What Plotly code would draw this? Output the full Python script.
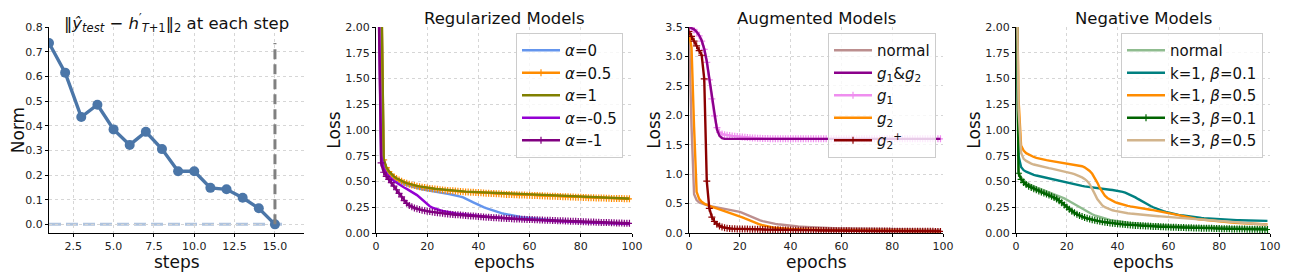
import plotly.graph_objects as go

# ---------------- data ----------------
steps = list(range(1, 16))
norms = [0.735, 0.615, 0.435, 0.485, 0.385, 0.322, 0.375, 0.305, 0.215, 0.215,
         0.148, 0.142, 0.108, 0.065, 0.0]

epochs = list(range(100))

reg_a0 = [3.4, 2.9, 2.4, 0.70, 0.62, 0.58, 0.55, 0.53, 0.512, 0.498,
          0.486, 0.475, 0.465, 0.457, 0.449, 0.442, 0.436, 0.430, 0.424, 0.419,
          0.414, 0.409, 0.404, 0.400, 0.396, 0.392, 0.388, 0.384, 0.380, 0.376,
          0.372, 0.367, 0.361, 0.354, 0.345, 0.335, 0.323, 0.310, 0.297, 0.284,
          0.272, 0.261, 0.251, 0.241, 0.232, 0.223, 0.215, 0.207, 0.200, 0.193,
          0.187, 0.181, 0.176, 0.171, 0.166, 0.162, 0.158, 0.154, 0.151, 0.148,
          0.145, 0.142, 0.140, 0.137, 0.135, 0.133, 0.131, 0.129, 0.127, 0.125,
          0.123, 0.121, 0.120, 0.118, 0.117, 0.115, 0.114, 0.112, 0.111, 0.110,
          0.108, 0.107, 0.106, 0.105, 0.104, 0.103, 0.102, 0.101, 0.100, 0.099,
          0.098, 0.097, 0.096, 0.095, 0.094, 0.093, 0.092, 0.092, 0.091, 0.090]
reg_a05 = [3.5, 3.0, 2.55, 0.71, 0.635, 0.595, 0.568, 0.546, 0.528, 0.514,
           0.502, 0.491, 0.482, 0.474, 0.467, 0.461, 0.455, 0.450, 0.445, 0.441,
           0.437, 0.433, 0.430, 0.427, 0.424, 0.421, 0.418, 0.416, 0.413, 0.411,
           0.409, 0.407, 0.405, 0.403, 0.401, 0.399, 0.398, 0.396, 0.395, 0.393,
           0.392, 0.390, 0.389, 0.387, 0.386, 0.384, 0.383, 0.382, 0.380, 0.379,
           0.376, 0.375, 0.374, 0.373, 0.372, 0.371, 0.370, 0.369, 0.368, 0.367,
           0.366, 0.365, 0.364, 0.363, 0.362, 0.361, 0.360, 0.359, 0.358, 0.357,
           0.356, 0.355, 0.354, 0.353, 0.352, 0.351, 0.350, 0.349, 0.348, 0.347,
           0.346, 0.345, 0.344, 0.343, 0.343, 0.342, 0.341, 0.340, 0.339, 0.339,
           0.338, 0.337, 0.336, 0.336, 0.335, 0.334, 0.334, 0.333, 0.332, 0.332]
reg_a1 = [3.5, 3.0, 2.6, 0.72, 0.64, 0.60, 0.572, 0.550, 0.532, 0.517,
          0.505, 0.494, 0.485, 0.477, 0.470, 0.464, 0.458, 0.453, 0.448, 0.444,
          0.440, 0.436, 0.433, 0.430, 0.427, 0.424, 0.421, 0.419, 0.416, 0.414,
          0.412, 0.410, 0.408, 0.406, 0.404, 0.402, 0.401, 0.399, 0.398, 0.396,
          0.395, 0.393, 0.392, 0.390, 0.389, 0.387, 0.386, 0.385, 0.383, 0.382,
          0.379, 0.378, 0.377, 0.376, 0.375, 0.374, 0.373, 0.372, 0.371, 0.370,
          0.369, 0.368, 0.367, 0.366, 0.365, 0.364, 0.363, 0.362, 0.361, 0.360,
          0.359, 0.358, 0.357, 0.356, 0.355, 0.354, 0.353, 0.352, 0.351, 0.350,
          0.349, 0.348, 0.347, 0.346, 0.346, 0.345, 0.344, 0.343, 0.342, 0.342,
          0.341, 0.340, 0.339, 0.339, 0.338, 0.337, 0.337, 0.336, 0.335, 0.335]
reg_am05 = [3.3, 2.4, 0.75, 0.63, 0.58, 0.55, 0.525, 0.505, 0.487, 0.470,
            0.455, 0.441, 0.428, 0.415, 0.401, 0.386, 0.368, 0.347, 0.323, 0.298,
            0.276, 0.260, 0.247, 0.237, 0.228, 0.221, 0.215, 0.209, 0.204, 0.199,
            0.195, 0.191, 0.187, 0.184, 0.181, 0.178, 0.175, 0.172, 0.169, 0.167,
            0.164, 0.162, 0.160, 0.158, 0.156, 0.154, 0.152, 0.150, 0.148, 0.146,
            0.144, 0.142, 0.141, 0.139, 0.138, 0.136, 0.135, 0.133, 0.132, 0.130,
            0.129, 0.127, 0.126, 0.125, 0.123, 0.122, 0.121, 0.119, 0.118, 0.117,
            0.116, 0.115, 0.113, 0.112, 0.111, 0.110, 0.109, 0.108, 0.107, 0.106,
            0.105, 0.104, 0.103, 0.102, 0.101, 0.100, 0.099, 0.098, 0.097, 0.096,
            0.095, 0.094, 0.093, 0.092, 0.091, 0.090, 0.089, 0.088, 0.088, 0.087]
reg_am1 = [3.4, 2.3, 0.68, 0.59, 0.55, 0.52, 0.49, 0.455, 0.42, 0.385,
           0.35, 0.315, 0.288, 0.268, 0.254, 0.243, 0.235, 0.228, 0.222, 0.217,
           0.212, 0.208, 0.204, 0.200, 0.197, 0.194, 0.191, 0.188, 0.185, 0.183,
           0.180, 0.178, 0.176, 0.174, 0.172, 0.170, 0.168, 0.166, 0.164, 0.162,
           0.160, 0.158, 0.156, 0.154, 0.152, 0.150, 0.148, 0.147, 0.145, 0.144,
           0.142, 0.141, 0.140, 0.139, 0.137, 0.136, 0.135, 0.134, 0.133, 0.132,
           0.131, 0.130, 0.129, 0.128, 0.127, 0.126, 0.125, 0.124, 0.123, 0.122,
           0.121, 0.120, 0.119, 0.118, 0.117, 0.116, 0.115, 0.114, 0.113, 0.112,
           0.111, 0.110, 0.109, 0.108, 0.107, 0.106, 0.105, 0.104, 0.103, 0.103,
           0.102, 0.101, 0.100, 0.099, 0.098, 0.097, 0.096, 0.095, 0.094, 0.094]

aug_normal = [3.45, 1.80, 0.66, 0.56, 0.52, 0.50, 0.485, 0.472, 0.462, 0.453,
              0.445, 0.437, 0.430, 0.423, 0.416, 0.409, 0.401, 0.392, 0.382, 0.371,
              0.358, 0.342, 0.323, 0.302, 0.281, 0.262, 0.244, 0.228, 0.214, 0.201,
              0.190, 0.180, 0.171, 0.163, 0.156, 0.149, 0.143, 0.137, 0.132, 0.127,
              0.123, 0.119, 0.115, 0.112, 0.109, 0.106, 0.103, 0.100, 0.098, 0.096,
              0.094, 0.092, 0.090, 0.088, 0.086, 0.085, 0.083, 0.082, 0.080, 0.079,
              0.078, 0.077, 0.076, 0.075, 0.074, 0.073, 0.072, 0.071, 0.070, 0.069,
              0.068, 0.067, 0.066, 0.066, 0.065, 0.064, 0.063, 0.063, 0.062, 0.061,
              0.061, 0.060, 0.059, 0.059, 0.058, 0.057, 0.057, 0.056, 0.056, 0.055,
              0.054, 0.054, 0.053, 0.053, 0.052, 0.052, 0.051, 0.051, 0.050, 0.050]
aug_g1g2 = [3.50, 3.48, 3.46, 3.42, 3.36, 3.27, 3.13, 2.92, 2.62, 2.30,
            2.00, 1.76, 1.65, 1.61, 1.60, 1.60, 1.60, 1.60, 1.60, 1.60,
            1.60, 1.60, 1.60, 1.60, 1.60, 1.60, 1.60, 1.60, 1.60, 1.60,
            1.60, 1.60, 1.60, 1.60, 1.60, 1.60, 1.60, 1.60, 1.60, 1.60,
            1.60, 1.60, 1.60, 1.60, 1.60, 1.60, 1.60, 1.60, 1.60, 1.60,
            1.60, 1.60, 1.60, 1.60, 1.60, 1.60, 1.60, 1.60, 1.60, 1.60,
            1.60, 1.60, 1.60, 1.60, 1.60, 1.60, 1.60, 1.60, 1.60, 1.60,
            1.60, 1.60, 1.60, 1.60, 1.60, 1.60, 1.60, 1.60, 1.60, 1.60,
            1.60, 1.60, 1.60, 1.60, 1.60, 1.60, 1.60, 1.60, 1.60, 1.60,
            1.60, 1.60, 1.60, 1.60, 1.60, 1.60, 1.60, 1.60, 1.60, 1.60]
aug_g1 = [3.50, 3.48, 3.45, 3.41, 3.35, 3.26, 3.12, 2.90, 2.60, 2.28,
          1.99, 1.79, 1.71, 1.68, 1.67, 1.66, 1.655, 1.65, 1.645, 1.64,
          1.635, 1.63, 1.626, 1.622, 1.618, 1.615, 1.612, 1.61, 1.608, 1.606,
          1.605, 1.604, 1.603, 1.602, 1.601, 1.60, 1.60, 1.60, 1.60, 1.60,
          1.60, 1.60, 1.60, 1.60, 1.60, 1.60, 1.60, 1.60, 1.60, 1.60,
          1.60, 1.60, 1.60, 1.60, 1.60, 1.60, 1.60, 1.60, 1.60, 1.60,
          1.60, 1.60, 1.60, 1.60, 1.60, 1.60, 1.60, 1.60, 1.60, 1.60,
          1.60, 1.60, 1.60, 1.60, 1.60, 1.60, 1.60, 1.60, 1.60, 1.60,
          1.60, 1.60, 1.60, 1.60, 1.60, 1.60, 1.60, 1.60, 1.60, 1.60,
          1.60, 1.60, 1.60, 1.60, 1.60, 1.60, 1.60, 1.60, 1.60, 1.60]
aug_g2 = [3.40, 3.15, 1.80, 0.70, 0.58, 0.53, 0.50, 0.478, 0.460, 0.445,
          0.430, 0.416, 0.402, 0.388, 0.374, 0.360, 0.346, 0.332, 0.317, 0.301,
          0.284, 0.266, 0.247, 0.228, 0.209, 0.191, 0.174, 0.158, 0.144, 0.131,
          0.120, 0.110, 0.102, 0.095, 0.089, 0.084, 0.080, 0.076, 0.073, 0.070,
          0.068, 0.066, 0.064, 0.062, 0.061, 0.059, 0.058, 0.057, 0.056, 0.055,
          0.054, 0.053, 0.052, 0.051, 0.050, 0.049, 0.049, 0.048, 0.047, 0.047,
          0.046, 0.045, 0.045, 0.044, 0.044, 0.043, 0.043, 0.042, 0.042, 0.041,
          0.041, 0.040, 0.040, 0.039, 0.039, 0.038, 0.038, 0.038, 0.037, 0.037,
          0.036, 0.036, 0.036, 0.035, 0.035, 0.035, 0.034, 0.034, 0.034, 0.033,
          0.033, 0.033, 0.032, 0.032, 0.032, 0.031, 0.031, 0.031, 0.030, 0.030]
aug_g2p = [3.42, 3.34, 3.26, 3.18, 3.10, 3.02, 2.62, 0.88, 0.42, 0.27,
           0.195, 0.150, 0.120, 0.100, 0.090, 0.082, 0.077, 0.074, 0.072, 0.070,
           0.069, 0.068, 0.067, 0.066, 0.065, 0.064, 0.063, 0.062, 0.061, 0.060,
           0.059, 0.058, 0.057, 0.056, 0.055, 0.054, 0.053, 0.052, 0.051, 0.050,
           0.049, 0.048, 0.047, 0.047, 0.046, 0.045, 0.045, 0.044, 0.044, 0.043,
           0.043, 0.042, 0.042, 0.041, 0.041, 0.040, 0.040, 0.039, 0.039, 0.038,
           0.038, 0.038, 0.037, 0.037, 0.036, 0.036, 0.036, 0.035, 0.035, 0.035,
           0.034, 0.034, 0.034, 0.033, 0.033, 0.033, 0.032, 0.032, 0.032, 0.032,
           0.031, 0.031, 0.031, 0.031, 0.030, 0.030, 0.030, 0.030, 0.029, 0.029,
           0.029, 0.029, 0.028, 0.028, 0.028, 0.028, 0.028, 0.027, 0.027, 0.027]

neg_normal = [3.0, 0.60, 0.54, 0.51, 0.49, 0.475, 0.463, 0.452, 0.442, 0.432,
              0.423, 0.414, 0.405, 0.396, 0.387, 0.378, 0.369, 0.359, 0.348, 0.336,
              0.323, 0.309, 0.294, 0.278, 0.262, 0.247, 0.232, 0.218, 0.205, 0.193,
              0.182, 0.172, 0.163, 0.155, 0.147, 0.140, 0.134, 0.128, 0.123, 0.118,
              0.114, 0.110, 0.106, 0.103, 0.100, 0.097, 0.094, 0.092, 0.090, 0.088,
              0.086, 0.084, 0.082, 0.081, 0.079, 0.078, 0.077, 0.075, 0.074, 0.073,
              0.072, 0.071, 0.070, 0.069, 0.068, 0.067, 0.066, 0.066, 0.065, 0.064,
              0.063, 0.063, 0.062, 0.061, 0.061, 0.060, 0.059, 0.059, 0.058, 0.058,
              0.057, 0.057, 0.056, 0.056, 0.055, 0.055, 0.054, 0.054, 0.053, 0.053,
              0.052, 0.052, 0.052, 0.051, 0.051, 0.050, 0.050, 0.050, 0.049, 0.049]
neg_k1_b01 = [3.0, 0.75, 0.64, 0.61, 0.595, 0.583, 0.573, 0.565, 0.558, 0.552,
              0.546, 0.540, 0.534, 0.528, 0.522, 0.516, 0.510, 0.504, 0.498, 0.492,
              0.486, 0.481, 0.476, 0.471, 0.466, 0.461, 0.457, 0.453, 0.449, 0.445,
              0.441, 0.438, 0.435, 0.432, 0.429, 0.426, 0.423, 0.420, 0.417, 0.414,
              0.410, 0.406, 0.400, 0.392, 0.382, 0.372, 0.360, 0.346, 0.331, 0.316,
              0.302, 0.288, 0.275, 0.262, 0.250, 0.239, 0.229, 0.220, 0.212, 0.205,
              0.198, 0.192, 0.186, 0.181, 0.176, 0.172, 0.168, 0.164, 0.160, 0.157,
              0.154, 0.151, 0.148, 0.146, 0.144, 0.142, 0.140, 0.138, 0.136, 0.134,
              0.132, 0.131, 0.130, 0.129, 0.128, 0.127, 0.126, 0.125, 0.124, 0.124,
              0.123, 0.122, 0.122, 0.121, 0.121, 0.120, 0.120, 0.119, 0.119, 0.118]
neg_k1_b05 = [3.0, 1.30, 0.85, 0.80, 0.775, 0.760, 0.748, 0.738, 0.730, 0.723,
              0.717, 0.712, 0.707, 0.703, 0.699, 0.695, 0.691, 0.687, 0.683, 0.680,
              0.677, 0.674, 0.671, 0.667, 0.662, 0.656, 0.648, 0.637, 0.622, 0.602,
              0.575, 0.538, 0.490, 0.438, 0.394, 0.362, 0.340, 0.324, 0.311, 0.300,
              0.291, 0.283, 0.276, 0.270, 0.264, 0.259, 0.254, 0.249, 0.245, 0.241,
              0.237, 0.233, 0.229, 0.226, 0.222, 0.218, 0.214, 0.210, 0.205, 0.200,
              0.195, 0.190, 0.184, 0.178, 0.172, 0.166, 0.160, 0.155, 0.150, 0.145,
              0.141, 0.137, 0.133, 0.130, 0.127, 0.124, 0.121, 0.118, 0.116, 0.113,
              0.111, 0.109, 0.107, 0.105, 0.103, 0.101, 0.099, 0.098, 0.096, 0.095,
              0.093, 0.092, 0.090, 0.089, 0.088, 0.086, 0.085, 0.084, 0.083, 0.082]
neg_k3_b01 = [3.0, 0.58, 0.52, 0.49, 0.47, 0.455, 0.442, 0.430, 0.419, 0.408,
              0.398, 0.388, 0.378, 0.368, 0.357, 0.345, 0.331, 0.314, 0.294, 0.272,
              0.250, 0.230, 0.212, 0.196, 0.182, 0.170, 0.159, 0.150, 0.142, 0.135,
              0.129, 0.123, 0.118, 0.113, 0.109, 0.105, 0.101, 0.098, 0.095, 0.092,
              0.089, 0.087, 0.084, 0.082, 0.080, 0.078, 0.076, 0.074, 0.073, 0.071,
              0.070, 0.068, 0.067, 0.066, 0.064, 0.063, 0.062, 0.061, 0.060, 0.059,
              0.058, 0.057, 0.056, 0.055, 0.054, 0.053, 0.053, 0.052, 0.051, 0.050,
              0.049, 0.049, 0.048, 0.047, 0.047, 0.046, 0.045, 0.045, 0.044, 0.043,
              0.043, 0.042, 0.042, 0.041, 0.041, 0.040, 0.040, 0.039, 0.039, 0.038,
              0.038, 0.037, 0.037, 0.036, 0.036, 0.036, 0.035, 0.035, 0.034, 0.034]
neg_k3_b05 = [3.0, 1.20, 0.78, 0.72, 0.70, 0.685, 0.674, 0.665, 0.658, 0.652,
              0.646, 0.640, 0.635, 0.630, 0.625, 0.620, 0.615, 0.610, 0.605, 0.599,
              0.593, 0.586, 0.579, 0.571, 0.562, 0.552, 0.540, 0.525, 0.505, 0.475,
              0.432, 0.380, 0.330, 0.293, 0.268, 0.251, 0.239, 0.229, 0.221, 0.215,
              0.209, 0.204, 0.200, 0.196, 0.192, 0.189, 0.186, 0.183, 0.180, 0.178,
              0.175, 0.173, 0.171, 0.169, 0.167, 0.165, 0.163, 0.161, 0.159, 0.157,
              0.155, 0.153, 0.151, 0.149, 0.147, 0.145, 0.143, 0.141, 0.139, 0.137,
              0.135, 0.133, 0.131, 0.129, 0.127, 0.125, 0.123, 0.121, 0.119, 0.117,
              0.115, 0.113, 0.111, 0.109, 0.107, 0.105, 0.103, 0.101, 0.099, 0.097,
              0.095, 0.093, 0.091, 0.089, 0.088, 0.086, 0.085, 0.083, 0.082, 0.080]

reg_labels = ["<i>α</i>=0", "<i>α</i>=0.5", "<i>α</i>=1", "<i>α</i>=-0.5", "<i>α</i>=-1"]
aug_labels = ["normal", "<i>g</i><sub>1</sub>&<i>g</i><sub>2</sub>", "<i>g</i><sub>1</sub>",
              "<i>g</i><sub>2</sub>", "<i>g</i><sub>2</sub><sup>+</sup>"]
neg_labels = ["normal", "k=1, <i>β</i>=0.1", "k=1, <i>β</i>=0.5", "k=3, <i>β</i>=0.1", "k=3, <i>β</i>=0.5"]

titles = ["‖<i>ŷ</i><sub><i>test</i></sub> − <i>h</i><sup>′</sup><sub><i>T</i>+1</sub>‖<sub>2</sub> at each step",
          "Regularized Models", "Augmented Models", "Negative Models"]
x_titles = ["steps", "epochs", "epochs", "epochs"]
y_titles = ["Norm", "Loss", "Loss", "Loss"]

# ---------------- figure ----------------
OFF = 8                      # page body margin of the html page
W, H = 1290 - OFF, 279 - OFF
FONT = "DejaVu Sans"
fig = go.Figure()

# panel 1
fig.add_trace(go.Scatter(x=steps, y=norms, mode="lines+markers",
                         line=dict(color="#4b76a8", width=3.4),
                         marker=dict(size=10, color="#4b76a8"),
                         showlegend=False, xaxis="x", yaxis="y"))

def add_series(xs, ys, name, color, leg, xa, ya, rank, markers=False, opacity=1.0, width=2.4):
    kw = dict(x=xs, y=ys, name=name, legend=leg, xaxis=xa, yaxis=ya, opacity=opacity,
              legendrank=rank, line=dict(color=color, width=width))
    if markers:
        kw["mode"] = "lines+markers"
        kw["marker"] = dict(symbol="cross-thin", size=5, color=color,
                            line=dict(color=color, width=1.2))
    else:
        kw["mode"] = "lines"
    fig.add_trace(go.Scatter(**kw))

reg_series = [(reg_a0, "#6495ED", False), (reg_a05, "#FF8C00", True), (reg_a1, "#808000", False),
              (reg_am05, "#9400D3", False), (reg_am1, "#800080", True)]
for k, ((ys, c, m), lab) in enumerate(zip(reg_series, reg_labels)):
    add_series(epochs, ys, lab, c, "legend", "x2", "y2", k, markers=m)

# drawing order: g1 under g1&g2 (legend order kept by legendrank)
aug_series = [(aug_normal, "#BC8F8F", False, 1.0, 0), (aug_g1, "#EE82EE", True, 0.9, 2),
              (aug_g1g2, "#8B008B", False, 1.0, 1), (aug_g2, "#FF8C00", False, 1.0, 3),
              (aug_g2p, "#8B0000", True, 1.0, 4)]
aug_lab_order = [aug_labels[0], aug_labels[2], aug_labels[1], aug_labels[3], aug_labels[4]]
for (ys, c, m, op, rk), lab in zip(aug_series, aug_lab_order):
    add_series(epochs, ys, lab, c, "legend2", "x3", "y3", rk, markers=m, opacity=op)

neg_series = [(neg_normal, "#8FBC8F", False), (neg_k1_b01, "#008080", False),
              (neg_k1_b05, "#FF8C00", False), (neg_k3_b01, "#006400", True),
              (neg_k3_b05, "#D2B48C", False)]
for k, ((ys, c, m), lab) in enumerate(zip(neg_series, neg_labels)):
    add_series(epochs, ys, lab, c, "legend3", "x4", "y4", k, markers=m)

# axes (pixel positions of the reference, shifted by the page margin)
doms = [(49 - OFF, 304 - OFF), (376 - OFF, 632 - OFF), (689 - OFF, 943 - OFF), (1016 - OFF, 1270 - OFF)]
top, bottom = 27 - OFF, 233 - OFF
base_ax = dict(showline=True, linecolor="black", linewidth=1.3, ticks="outside",
               ticklen=3, tickwidth=1.1, tickcolor="black", showgrid=True,
               gridcolor="#d6d6d6", griddash="dot", gridwidth=0.8, zeroline=False,
               tickfont=dict(family=FONT, size=11, color="#222222"), automargin=False)
title_font = dict(family=FONT, size=17, color="#111111")

xcfg = [dict(range=[1, 16.8], tickvals=[2.5, 5, 7.5, 10, 12.5, 15], tickformat=".1f"),
        dict(range=[0, 100], tickvals=[0, 20, 40, 60, 80, 100]),
        dict(range=[0, 100], tickvals=[0, 20, 40, 60, 80, 100]),
        dict(range=[0, 100], tickvals=[0, 20, 40, 60, 80, 100])]
ycfg = [dict(range=[-0.035, 0.8], dtick=0.1, tickformat=".1f"),
        dict(range=[0, 2.0], dtick=0.25, tickformat=".2f"),
        dict(range=[0, 3.5], dtick=0.5, tickformat=".1f"),
        dict(range=[0, 2.0], dtick=0.25, tickformat=".2f")]

for i in range(4):
    sx = "" if i == 0 else str(i + 1)
    xc = dict(base_ax)
    xc.update(domain=[doms[i][0] / W, doms[i][1] / W], anchor="y" + sx,
              range=xcfg[i]["range"], tickvals=xcfg[i]["tickvals"])
    if "tickformat" in xcfg[i]:
        xc["tickformat"] = xcfg[i]["tickformat"]
    yc = dict(base_ax)
    yc.update(domain=[0, 1], anchor="x" + sx, range=ycfg[i]["range"], dtick=ycfg[i]["dtick"],
              tick0=0, tickformat=ycfg[i]["tickformat"],
              title=dict(text=y_titles[i], font=title_font, standoff=0))
    fig.layout["xaxis" + sx] = xc
    fig.layout["yaxis" + sx] = yc
    # x-axis title placed below the tick labels
    fig.add_annotation(text=x_titles[i], x=(doms[i][0] + doms[i][1]) / 2 / W, y=0,
                       xref="paper", yref="paper", xanchor="center", yanchor="top",
                       yshift=-18, borderpad=0, showarrow=False, font=title_font)

# reference lines in panel 1
fig.add_shape(type="line", xref="x", yref="y", x0=min(steps), x1=max(steps) + 0.7, y0=0, y1=0,
              line=dict(color="#b0c4de", width=3, dash="12px,5px"), layer="below")
fig.add_shape(type="line", xref="x", yref="y", x0=max(steps), x1=max(steps), y0=0, y1=max(norms),
              line=dict(color="#808080", width=3, dash="10px,5px"))

# titles
for i, t in enumerate(titles):
    cx = (doms[i][0] + doms[i][1]) / 2 / W
    fig.add_annotation(text=t, x=cx, y=1, xref="paper", yref="paper", xanchor="center",
                       yanchor="bottom", yshift=(-9 if i == 0 else -2), borderpad=0,
                       showarrow=False, font=dict(family=FONT, size=16.5, color="#111111"))

plot_h = bottom - top
leg_common = dict(bgcolor="rgba(255,255,255,0.8)", bordercolor="#cccccc", borderwidth=1,
                  font=dict(family=FONT, size=15, color="#111111"), xanchor="right", yanchor="top",
                  tracegroupgap=0, traceorder="normal", itemwidth=38)
ly = (bottom - (33 - OFF)) / plot_h
fig.update_layout(
    width=W, height=H, margin=dict(l=0, r=0, t=top, b=H - bottom),
    plot_bgcolor="white", paper_bgcolor="white",
    legend=dict(leg_common, x=(623 - OFF) / W, y=ly),
    legend2=dict(leg_common, x=(936 - OFF) / W, y=ly),
    legend3=dict(leg_common, x=(1263 - OFF) / W, y=ly),
)

fig.write_html("out.html")
